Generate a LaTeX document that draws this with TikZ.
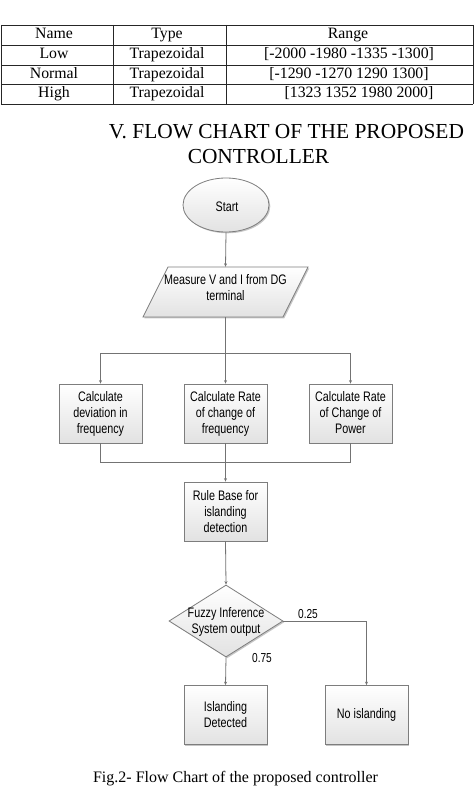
\documentclass[tikz,border=0pt]{standalone}
\usepackage{fontspec}
\setmainfont{Liberation Serif}
\newfontfamily\flowfont[FakeStretch=0.78]{Liberation Sans}
\usetikzlibrary{shapes.geometric,arrows.meta,shadows}
\definecolor{lncol}{RGB}{115,115,115}
\definecolor{bdcol}{RGB}{125,125,125}
\definecolor{boxbot}{RGB}{226,226,226}
\definecolor{shcol}{RGB}{175,175,175}
\begin{document}
\begin{tikzpicture}[x=1pt,y=-1pt,
  tline/.style={draw=black!85, line width=0.8pt},
  ttext/.style={font=\fontsize{15.8}{18}\selectfont, inner sep=0pt, text height=11pt, text depth=3.4pt},
  conn/.style={draw=lncol, line width=0.8pt},
  arr/.style={conn, -{Stealth[length=3.5pt,width=3pt]}},
  ff/.style={font=\flowfont\fontsize{13.8}{16}\selectfont, align=center},
  shade box/.style={draw=bdcol, line width=0.8pt, top color=white, bottom color=boxbot,
     drop shadow={shadow xshift=1.3pt, shadow yshift=-1.3pt, fill=shcol, opacity=0.7}},
  procbox/.style={shade box, ff, rectangle, minimum width=83pt, minimum height=59pt, inner sep=0pt},
  lbl/.style={font=\flowfont\fontsize{13}{14}\selectfont, inner sep=0pt}
]
\useasboundingbox (0,0) rectangle (474,789);
\fill[white] (0,0) rectangle (474,789);

% ---------- table ----------
\foreach \yy in {25,45,65,84,104} \draw[tline] (1,\yy) -- (473,\yy);
\foreach \xx in {1,113,226,473} \draw[tline] (\xx,25) -- (\xx,104);
\node[ttext] (h1) at (54,35) {Name};
\node[ttext] (h2) at (167,35) {Type};
\node[ttext] (h3) at (348,35) {Range};
\node[ttext] (r1a) at (54,55) {Low};
\node[ttext] (r1b) at (167,55) {Trapezoidal};
\node[ttext] (r1c) at (349,55) {[-2000 -1980 -1335 -1300]};
\node[ttext] (r2a) at (54,74.5) {Normal};
\node[ttext] (r2b) at (167,74.5) {Trapezoidal};
\node[ttext] (r2c) at (349,74.5) {[-1290 -1270 1290 1300]};
\node[ttext] (r3a) at (54,94) {High};
\node[ttext] (r3b) at (167,94) {Trapezoidal};
\node[ttext] (r3c) at (359,94) {[1323 1352 1980 2000]};

% ---------- heading ----------
\node[font=\fontsize{21.4}{24}\selectfont, inner sep=0pt] (title1) at (286.5,132) {V. FLOW CHART OF THE PROPOSED};
\node[font=\fontsize{21.4}{24}\selectfont, inner sep=0pt] (title2) at (258.5,157) {CONTROLLER};

% ---------- flow chart ----------
\node[shade box, ellipse, minimum width=86pt, minimum height=54pt, inner sep=0pt] (start) at (226,205) {};
\node[ff] (starttxt) at (227,207) {Start};

\node[minimum width=140pt, minimum height=50pt, inner sep=0pt] (meas) at (225.5,292) {};
\path[shade box] (168,267) -- (308,267) -- (283,317) -- (143,317) -- cycle;
\node[ff] (meastxt) at (225.5,287.5) {Measure V and I from DG\\terminal};

\node[procbox] (b1) at (100.5,413.5) {Calculate\\deviation in\\frequency};
\node[procbox] (b2) at (225.5,413.5) {Calculate Rate\\of change of\\frequency};
\node[procbox] (b3) at (350.5,413.5) {Calculate Rate\\of Change of\\Power\vphantom{q}};

\node[procbox] (rule) at (225.5,511.5) {Rule Base for\\islanding\\detection};

\node[shade box, diamond, minimum width=114pt, minimum height=72pt, inner sep=0pt] (fis) at (226,621) {};
\node[ff] (fistxt) at (226,621.5) {Fuzzy Inference\\System output};

\node[procbox] (isl) at (225.5,715) {Islanding\\Detected};
\node[procbox] (noisl) at (366.5,715) {No islanding};

% connectors
\draw[arr] (start.south) -- (meas.north);
\coordinate (sp) at (225.5,353);
\draw[conn] (meas.south) -- (sp);
\draw[conn] (b1.north |- sp) -- (b3.north |- sp);
\draw[arr] (b1.north |- sp) -- (b1.north);
\draw[arr] (sp) -- (b2.north);
\draw[arr] (b3.north |- sp) -- (b3.north);

\coordinate (jn) at (225.5,462);
\draw[conn] (b1.south) -- (b1.south |- jn) -- (b3.south |- jn) -- (b3.south);
\draw[conn] (b2.south) -- (jn);
\draw[arr] (jn) -- (rule.north);

\draw[arr] (rule.south) -- (fis.north);
\draw[arr] (fis.east) -- (noisl.north |- fis.east) -- (noisl.north);
\draw[arr] (fis.south) -- (isl.north);
\node[lbl] (l25) at (308,614) {0.25};
\node[lbl] (l75) at (262,658) {0.75};

% ---------- caption ----------
\node[font=\fontsize{16}{18}\selectfont, inner sep=0pt] (cap) at (235.5,779) {Fig.2- Flow Chart of the proposed controller};
\end{tikzpicture}
\end{document}
